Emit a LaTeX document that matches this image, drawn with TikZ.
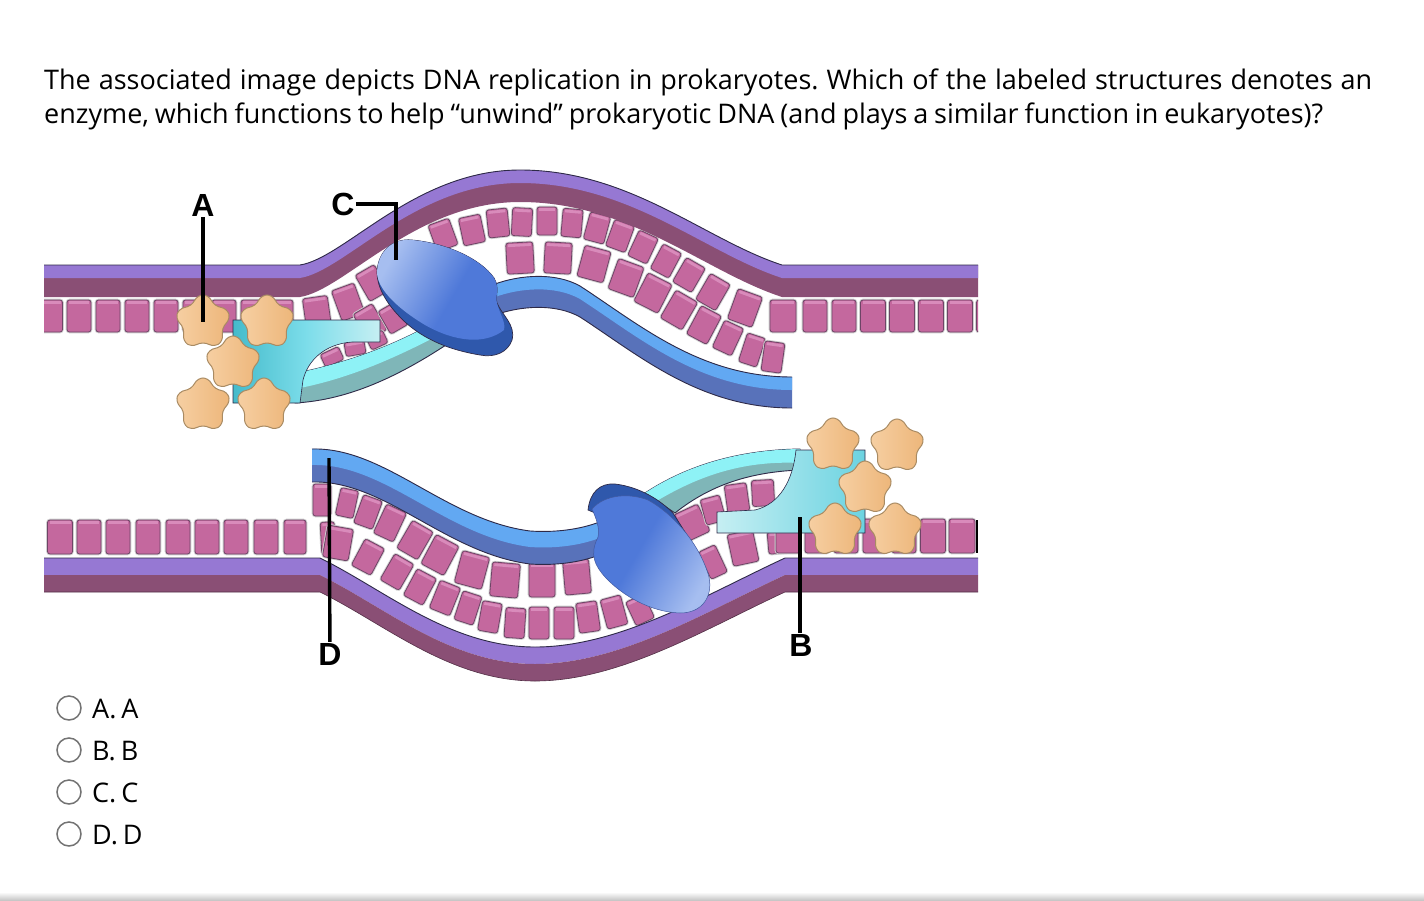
\documentclass[tikz,border=0pt]{standalone}
\usepackage{fontspec}
\setmainfont{Open Sans}
\newfontfamily\lblfont{Liberation Sans}
\definecolor{lightpurple}{HTML}{9678D3}
\definecolor{maroon}{HTML}{8A4F75}
\definecolor{pinkbox}{HTML}{C4689E}
\definecolor{pinkhi}{HTML}{D98BBB}
\definecolor{pinkedge}{HTML}{6E4466}
\definecolor{lightblue}{HTML}{62A8F2}
\definecolor{darkblue}{HTML}{5872BA}
\definecolor{enzyme}{HTML}{4F79D9}
\definecolor{enzymedark}{HTML}{2F58AC}
\definecolor{enzymelight}{HTML}{A6BEF0}
\definecolor{aquabright}{HTML}{8EF2F6}
\definecolor{aquadark}{HTML}{7FB6B8}
\definecolor{clamp}{HTML}{7CDDEA}
\definecolor{clampdark}{HTML}{45BBCB}
\definecolor{clamplight}{HTML}{C6EFF3}
\definecolor{staredge}{HTML}{A98B63}
\definecolor{starl}{HTML}{F6CFA2}
\definecolor{starr}{HTML}{EDB67A}
\definecolor{outline}{HTML}{2E2A48}
\pgfdeclarehorizontalshading{enzfade}{100bp}{color(0bp)=(enzymelight); color(25bp)=(enzymelight); color(55bp)=(enzyme); color(100bp)=(enzyme)}
\tikzset{
  sq/.style={fill=pinkbox,draw=pinkedge,line width=0.8pt,rounded corners=2.5pt,
    preaction={draw=black!18,line width=2.6pt}},
  sqhi/.style={fill=pinkhi},
  edge/.style={draw=outline,line width=0.9pt},
  pointer/.style={draw=black,line width=3.4pt},
  lbl/.style={font=\lblfont\bfseries\fontsize{32}{32}\selectfont,inner sep=1pt},
  radio/.style={draw=black!55,line width=1.5pt,fill=white},
  answer/.style={anchor=base west,inner sep=0pt,font=\fontsize{27}{30}\selectfont},
  qtext/.style={anchor=base west,inner sep=0pt,font=\fontsize{27}{32}\selectfont},
  starshape/.style={draw=staredge,line width=1pt,left color=starl,right color=starr}
}
\frenchspacing
\def\Tfwd#1{(44,265+#1) -- (300,265+#1) .. controls (345,258+#1) and (415,170+#1) .. (520,170+#1) .. controls (630,170+#1) and (705,240+#1) .. (782,265+#1) -- (978,265+#1)}
\def\Trev#1{-- (978,265+#1) -- (782,265+#1) .. controls (705,240+#1) and (630,170+#1) .. (520,170+#1) .. controls (415,170+#1) and (345,258+#1) .. (300,265+#1) -- (44,265+#1)}
\def\Bfwd#1{(44,558+#1) -- (320,558+#1) .. controls (385,590+#1) and (450,647+#1) .. (535,647+#1) .. controls (620,647+#1) and (705,595+#1) .. (785,558+#1) -- (978,558+#1)}
\def\Brev#1{-- (978,558+#1) -- (785,558+#1) .. controls (705,595+#1) and (620,647+#1) .. (535,647+#1) .. controls (450,647+#1) and (385,590+#1) .. (320,558+#1) -- (44,558+#1)}
\def\Ufwd#1{(495,284+#1) .. controls (520,275+#1) and (555,272+#1) .. (580,286+#1) .. controls (640,325+#1) and (700,377+#1) .. (792,377+#1)}
\def\Urev#1{-- (792,377+#1) .. controls (700,377+#1) and (640,325+#1) .. (580,286+#1) .. controls (555,272+#1) and (520,275+#1) .. (495,284+#1)}
\def\Vfwd#1{(312,449+#1) .. controls (385,447+#1) and (445,520+#1) .. (530,531+#1) .. controls (560,533+#1) and (585,528+#1) .. (602,521+#1)}
\def\Vrev#1{-- (602,521+#1) .. controls (585,528+#1) and (560,533+#1) .. (530,531+#1) .. controls (445,520+#1) and (385,447+#1) .. (312,449+#1)}
\newcommand{\squares}[1]{%
  \foreach \px/\py/\ang/\bw/\bh in {#1}{%
    \begin{scope}[shift={(\px,\py)},rotate=\ang,x=1pt,y=1pt]
    \draw[sq] (-\bw/2,-\bh/2) -- (\bw/2,-\bh/2) -- (\bw/2,\bh/2) -- (-\bw/2,\bh/2) -- cycle;
    \fill[sqhi] (-\bw/2+2,\bh/2-1.2) -- (\bw/2-2,\bh/2-1.2) -- (\bw/2-2,\bh/2-4) -- (-\bw/2+2,\bh/2-4) -- cycle;
    \end{scope}
  }}
\newcommand{\lobed}[2]{%
  \path[starshape,shift={(#1,#2)}] plot[smooth cycle,tension=0.8] coordinates
   {(80:26pt) (100:26pt) (126:21pt) (152:26pt) (172:26pt) (198:21pt) (224:26pt) (244:26pt) (270:21pt) (296:26pt) (316:26pt) (342:21pt) (8:26pt) (28:26pt) (54:21pt)};}
\begin{document}
\begin{tikzpicture}[x=1pt,y=-1pt]
\useasboundingbox (0,0) rectangle (1424,900);
\fill[white] (0,0) rectangle (1424,900);
\node[qtext] (q1) at (44,89) {\makebox[1328pt][s]{The associated image depicts DNA replication in prokaryotes. Which of the labeled structures denotes an}};
\node[qtext] (q2) at (44,123) {\makebox[1279pt][s]{enzyme, which functions to help “unwind” prokaryotic DNA (and plays a similar function in eukaryotes)?}};
\begin{scope}
\clip (44,160) rectangle (978,690);
\squares{50/316/0/25/32,79/316/0/24/32,108/316/0/24/32,137/316/0/24/32,166/316/0/24/32,195/316/0/24/32,224/316/0/24/32,253/316/0/24/32,281/316/0/24/32,
317/313/8/25/32,348/302/20/24/32,372/283/30/22/30,370/322/30/22/30,393/318/30/20/26,332/357/25/20/14,355/348/10/20/14,377/340/25/18/14,
443/235/20/22/28,472/230/12/22/28,498/223/6/21/28,522/222/-3/20/28,547/221/0/20/28,572/223/-5/20/28,597/228/-15/21/28,620/236/-20/21/28,643/247/-25/21/28,666/261/-28/21/28,689/275/-30/22/28,713/292/-30/23/30,745/308/-20/26/32,
520/258/3/27/31,558/258/-3/27/31,594/264/-15/27/32,626/278/-20/27/32,653/293/-27/27/32,679/310/-30/25/32,704/325/-28/23/32,728/338/-25/21/30,752/350/-18/19/30,773/357/-8/20/30,
783/316/0/26/32,815/316/0/24/32,844/316/0/24/32,873/316/0/25/32,902/316/0/25/32,931/316/0/25/32,960/316/0/25/32,989/316/0/25/32}
\squares{60/537/0/25/34,89/537/0/24/34,118/537/0/24/34,148/537/0/24/34,178/537/0/24/34,207/537/0/24/34,236/537/0/24/34,266/537/0/24/34,295/537/0/22/34,
322/500/0/18/32,328/538/3/14/32,338/543/-10/26/32,347/503/-12/18/28,368/512/-20/20/30,390/523/-25/22/32,415/540/-30/24/32,440/555/-28/26/33,472/570/-15/28/33,505/580/-5/28/34,
368/557/-28/22/30,397/572/-30/22/30,420/587/-28/22/30,445/598/-22/22/30,468/608/-18/20/30,490/617/-10/20/30,515/623/-4/20/30,539/623/0/20/32,564/623/0/20/32,588/617/8/21/30,614/612/15/21/30,640/610/25/20/26,
542/580/0/26/34,577/577/5/26/34,
692/523/25/26/30,713/510/15/20/26,737/498/8/22/28,763/493/3/22/26,713/562/25/18/30,743/548/12/26/32,783/542/5/30/22,
788/536/0/24/34,817/536/0/24/34,846/536/0/24/34,875/536/0/24/34,904/536/0/24/34,933/536/0/25/34,962/536/0/26/34}
\end{scope}
\draw[black,line width=2pt] (977,520) -- (977,553);
\fill[maroon] \Tfwd{0} \Trev{32} -- cycle;
\fill[lightpurple] \Tfwd{0} \Trev{13} -- cycle;
\draw[edge] \Tfwd{0};
\fill[lightpurple] \Bfwd{0} \Brev{17} -- cycle;
\fill[maroon] \Bfwd{17} \Brev{34} -- cycle;
\draw[edge] \Bfwd{0};
\draw[maroon!60!black,line width=0.6pt] \Bfwd{34};
\fill[darkblue] \Ufwd{0} \Urev{31} -- cycle;
\fill[lightblue] \Ufwd{0} \Urev{13} -- cycle;
\draw[edge] \Ufwd{0};
\draw[edge] \Ufwd{31};
\fill[darkblue] \Vfwd{0} \Vrev{33} -- cycle;
\fill[lightblue] \Vfwd{0} \Vrev{16} -- cycle;
\draw[edge] \Vfwd{0};
\draw[edge] \Vfwd{33};
\path[fill=aquadark,edge] (297,373) .. controls (350,362) and (395,345) .. (435,322) -- (446,345) .. controls (400,375) and (350,400) .. (295,403) -- cycle;
\fill[aquabright] (297,373) .. controls (350,362) and (395,345) .. (435,322) -- (441,334) .. controls (395,358) and (350,378) .. (300,388) -- cycle;
\path[fill=aquadark,edge] (645,493) .. controls (680,470) and (730,450) .. (800,449) -- (800,470) .. controls (750,472) and (710,485) .. (675,513) -- cycle;
\fill[aquabright] (645,493) .. controls (680,470) and (730,450) .. (800,449) -- (800,463) .. controls (740,460) and (695,478) .. (655,502) -- cycle;
\path[left color=clampdark,right color=clamplight,middle color=clamp,draw=outline,line width=0.6pt]
 (233,320) -- (380,320) -- (380,342) -- (352,342) .. controls (325,344) and (308,360) .. (303,380) -- (300,403) -- (233,403) -- cycle;
\path[left color=clamplight,middle color=clamp,right color=clamp!70!clampdark,draw=outline,line width=0.6pt]
 (796,450) -- (865,450) -- (865,533) -- (717,533) -- (717,512) -- (755,510) .. controls (780,504) and (793,480) .. (796,450) -- cycle;
\path[fill=enzymedark,draw=outline,line width=0.7pt]
 (377,272) .. controls (378,252) and (392,238) .. (412,240) .. controls (445,243) and (480,258) .. (494,278) .. controls (500,288) and (495,296) .. (497,303) .. controls (502,315) and (516,325) .. (512,340) .. controls (508,352) and (495,358) .. (480,355) .. controls (450,350) and (425,340) .. (405,322) .. controls (390,308) and (377,290) .. (377,272) -- cycle;
\path[shading=enzfade,shading angle=-30]
 (377,272) .. controls (378,252) and (392,238) .. (412,240) .. controls (445,243) and (480,258) .. (494,278) .. controls (500,288) and (495,296) .. (497,303) .. controls (500,315) and (506,322) .. (504,330) .. controls (485,345) and (455,342) .. (425,325) .. controls (400,310) and (377,290) .. (377,272) -- cycle;
\path[fill=enzymedark,draw=outline,line width=0.7pt]
 (588,510) .. controls (590,492) and (600,483) .. (615,484) .. controls (640,487) and (660,500) .. (673,513) -- (690,540) -- (640,520) -- (600,515) -- cycle;
\path[shading=enzfade,shading angle=150,draw=outline!40!enzyme,line width=0.5pt]
 (592,509) .. controls (605,494) and (630,493) .. (648,500) .. controls (675,515) and (700,545) .. (709,577) .. controls (713,597) and (702,613) .. (680,613) .. controls (650,612) and (622,595) .. (606,578) .. controls (595,566) and (589,555) .. (598,537) .. controls (600,528) and (596,518) .. (592,509) -- cycle;
\lobed{203}{322}\lobed{267}{322}\lobed{233}{363}\lobed{203}{405}\lobed{264}{405}
\lobed{833}{445}\lobed{897}{446}\lobed{865}{488}\lobed{835}{530}\lobed{895}{530}
\node[lbl] (lblA) at (203,205) {A};
\node[lbl] (lblC) at (343,204) {C};
\node[lbl] (lblD) at (330,654) {D};
\node[lbl] (lblB) at (801,645) {B};
\coordinate (endA) at (203,322);
\coordinate (endC) at (396,260);
\coordinate (endD) at (329,458);
\coordinate (endB) at (800,517);
\draw[pointer] (lblA) -- (endA);
\draw[pointer] (lblC) -| (endC);
\draw[pointer] (endD) -- (lblD);
\draw[pointer] (endB) -- (lblB.north -| endB);
\node[radio,circle,minimum size=24pt,inner sep=0pt] (r1) at (69,708) {};
\node[radio,circle,minimum size=24pt,inner sep=0pt] (r2) at (69,750) {};
\node[radio,circle,minimum size=24pt,inner sep=0pt] (r3) at (69,792) {};
\node[radio,circle,minimum size=24pt,inner sep=0pt] (r4) at (69,834) {};
\node[answer] (a1) at (92,718) {A.\kern5pt A};
\node[answer] (a2) at (92,760) {B.\kern5pt B};
\node[answer] (a3) at (92,802) {C.\kern5pt C};
\node[answer] (a4) at (92,844) {D.\kern5pt D};
\shade[top color=white,bottom color=black!22] (0,892) rectangle (1424,900);
\end{tikzpicture}
\end{document}
